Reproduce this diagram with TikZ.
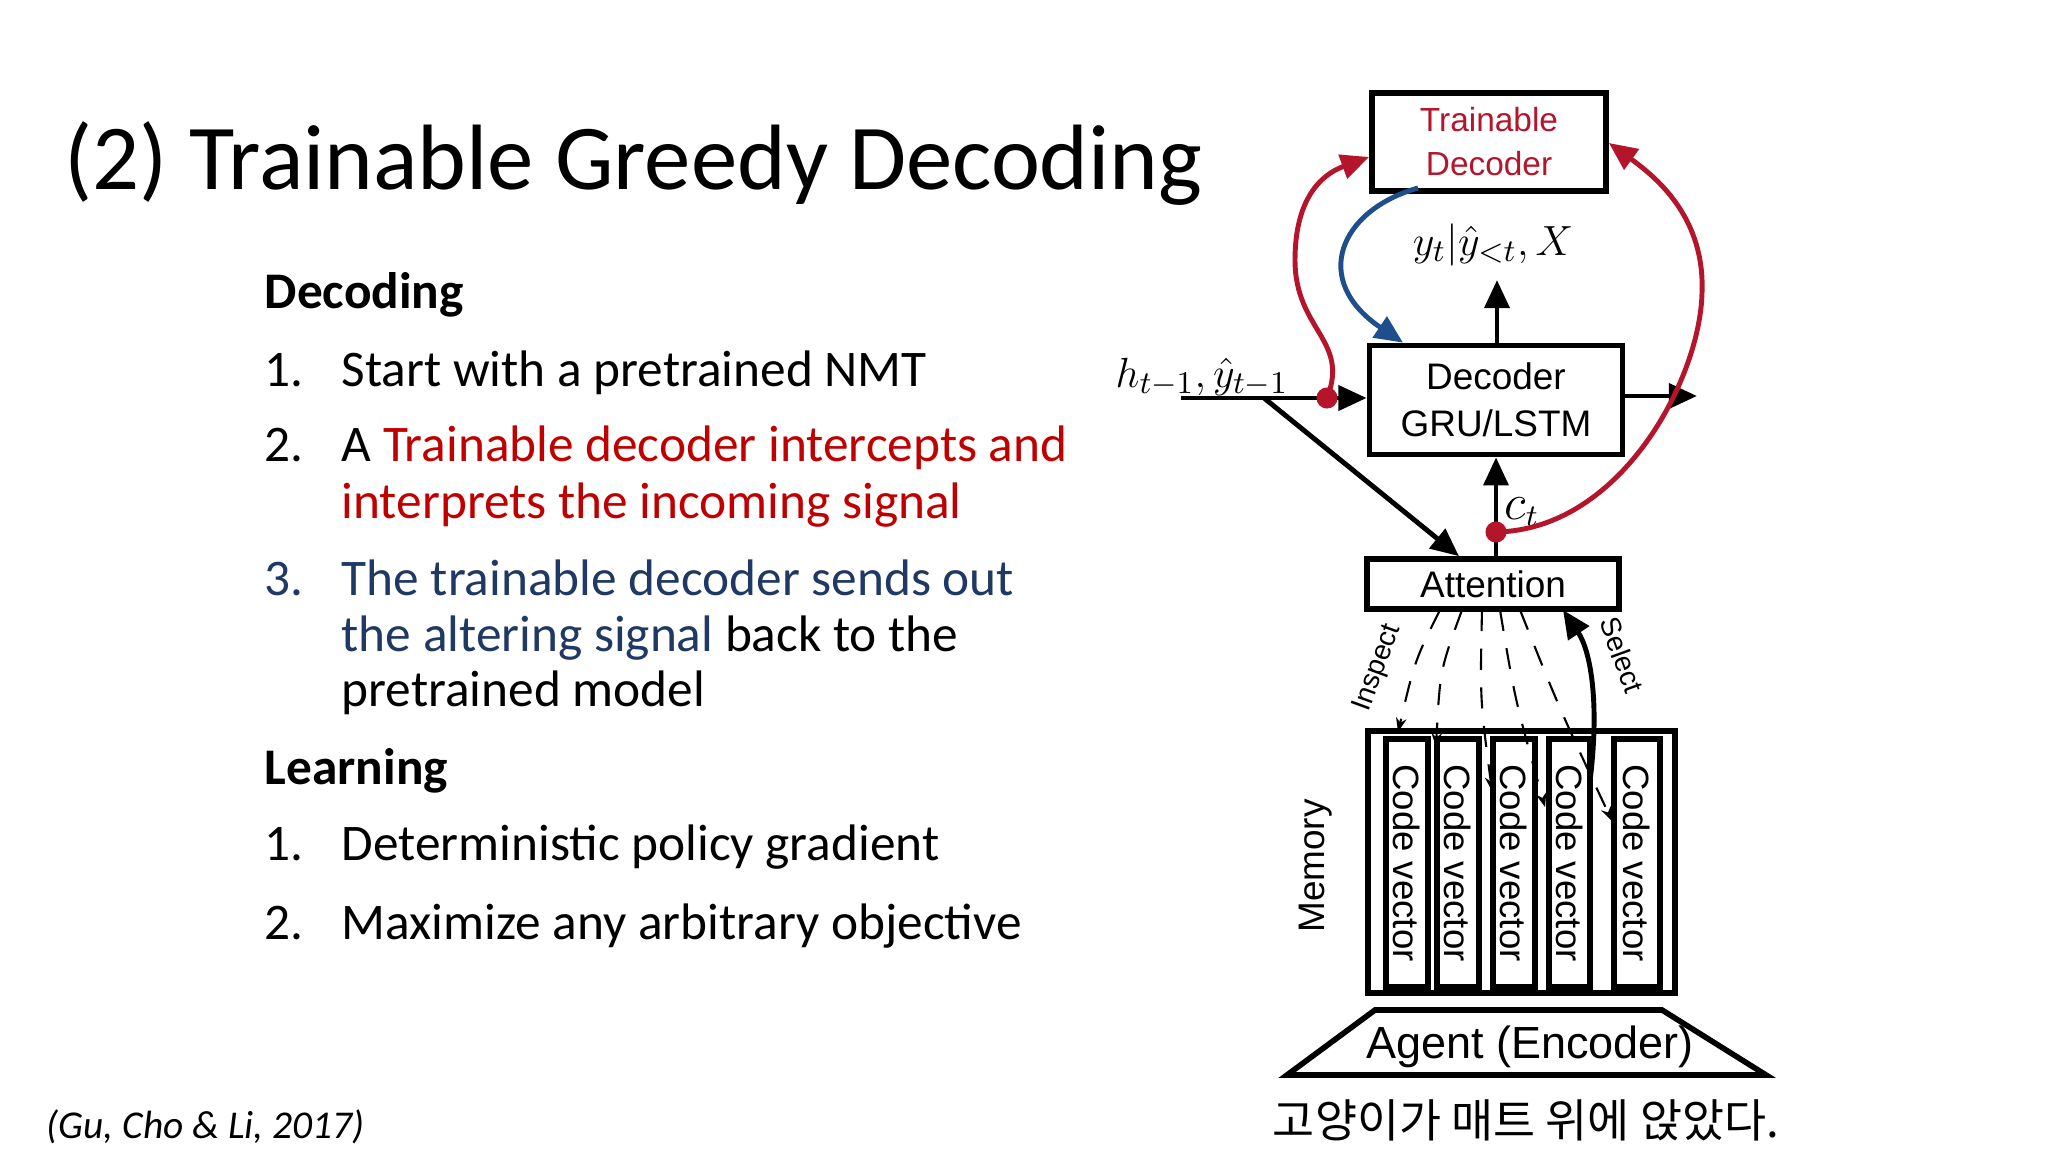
\documentclass[tikz,border=0pt]{standalone}
\usepackage{fontspec}
\setmainfont{Carlito}
\newfontfamily\helv{Liberation Sans}
\newfontfamily\kor{Noto Sans CJK KR}
\usetikzlibrary{arrows.meta}
\definecolor{slidered}{HTML}{C00000}
\definecolor{slideblue}{HTML}{1F3864}
\definecolor{figred}{HTML}{B5152B}
\definecolor{figblue}{HTML}{1F4E8C}
\begin{document}
\begin{tikzpicture}[x=0.01cm,y=-0.01cm,
  txt/.style={anchor=base west,inner sep=0pt,font=\fontsize{14.6}{18}\selectfont},
  box/.style={draw,line width=1.6pt,inner sep=0pt,font=\helv\fontsize{10.5}{13.5}\selectfont,align=center},
  arr/.style={line width=1.4pt,-{Triangle[length=8pt,width=7pt]}},
  redarr/.style={figred,line width=1.4pt,-{Triangle[length=8pt,width=7pt]}},
  dash_arr/.style={line width=0.6pt,dash pattern=on 6pt off 5pt,-{Stealth[length=4pt]}},
  dot/.style={circle,fill=figred,inner sep=0pt,minimum size=6pt}]

    \useasboundingbox (0,0) rectangle (2048,1152);

    % slide text
    \node[txt,font=\fontsize{26.4}{32}\selectfont] (title) at (64,190) {(2) Trainable Greedy Decoding};
    \node[txt,font=\bfseries\fontsize{14.6}{18}\selectfont] (dec) at (264,309) {Decoding};
    \node[txt] (d1n) at (264,387) {1.};
    \node[txt] (d1) at (341,387) {Start with a pretrained NMT};
    \node[txt] (d2n) at (264,462) {2.};
    \node[txt] (d2) at (341,462) {A \textcolor{slidered}{Trainable decoder intercepts and}};
    \node[txt,text=slidered] (d2b) at (341,519) {interprets the incoming signal};
    \node[txt,text=slideblue] (d3n) at (264,595) {3.};
    \node[txt,text=slideblue] (d3) at (341,595) {The trainable decoder sends out};
    \node[txt] (d3b) at (341,651) {\textcolor{slideblue}{the altering signal} back to the};
    \node[txt] (d3c) at (341,706) {pretrained model};
    \node[txt,font=\bfseries\fontsize{14.6}{18}\selectfont] (learn) at (264,784) {Learning};
    \node[txt] (l1n) at (264,860) {1.};
    \node[txt] (l1) at (341,860) {Deterministic policy gradient};
    \node[txt] (l2n) at (264,939) {2.};
    \node[txt] (l2) at (341,939) {Maximize any arbitrary objective};
    \node[txt,font=\itshape\fontsize{11.2}{14}\selectfont] (cite) at (46,1138) {(Gu, Cho \& Li, 2017)};

    % diagram boxes
    \node[box,minimum width=2.34cm,minimum height=0.98cm,text=figred,font=\helv\fontsize{9.5}{12.5}\selectfont] (train) at (1489,142) {Trainable\\Decoder};
    \node[box,minimum width=2.53cm,minimum height=1.09cm] (decoder) at (1496,400) {Decoder\\GRU/LSTM};
    \node[box,minimum width=2.52cm,minimum height=0.50cm] (att) at (1493,584) {Attention};

    % memory
    \draw[line width=1.6pt] (1368,731) rectangle (1675,993);
    \foreach \xa/\xb [count=\i] in {1386/1428,1437/1479,1493/1535,1549/1590,1614/1660} {
      \draw[line width=1.6pt] (\xa,739) rectangle (\xb,987);
      \node[inner sep=0pt,rotate=-90,font=\helv\fontsize{10.4}{12}\selectfont] (cv\i) at ({(\xa+\xb)/2},863) {Code vector};
    }
    \node[inner sep=0pt,rotate=90,font=\helv\fontsize{10.5}{12}\selectfont] (mem) at (1316,866) {Memory};

    % agent
    \draw[line width=1.6pt] (1287,1075) -- (1375,1010) -- (1662,1010) -- (1766,1075) -- cycle;
    \node[inner sep=0pt,font=\helv\fontsize{12.8}{14}\selectfont] (agent) at (1530,1047) {Agent (Encoder)};
    \node[inner sep=0pt,font=\kor\fontsize{13}{16}\selectfont] (sent) at (1526,1120) {고양이가 매트 위에 앉았다.};

    % labels
    \node[inner sep=0pt,font=\fontsize{12.5}{14}\selectfont] (ylbl) at (1493,245) {$y_t|\hat{y}_{<t},X$};
    \node[inner sep=0pt,font=\fontsize{12.5}{14}\selectfont] (hlbl) at (1202,377) {$h_{t-1},\hat{y}_{t-1}$};
    \node[inner sep=0pt,font=\fontsize{13.5}{14}\selectfont] (clbl) at (1522,512) {$c_t$};
    \node[inner sep=0pt,rotate=70,font=\helv\fontsize{8}{10}\selectfont] (insp) at (1378,668) {Inspect};
    \node[inner sep=0pt,rotate=-70,font=\helv\fontsize{8}{10}\selectfont] (sel) at (1622,655) {Select};

    \coordinate (hin) at (1181,398);
    \coordinate (hsplit) at (1264,398);
    \coordinate (rdot) at (1327,398);
    \coordinate (cdot) at (1496,532);
    \coordinate (out) at (1697,396);
    \coordinate (ytop) at (1497,280);

    % connectors
    \draw[arr] (hin) -- (decoder.west |- hin);
    \draw[arr] (hsplit) -- (att.north -| 1459,0);
    \draw[arr] (decoder.east |- out) -- (out);
    \draw[arr] (decoder.north -| ytop) -- (ytop);
    \draw[arr] (att.north -| cdot) -- (decoder.south -| cdot);
    \draw[redarr] (rdot) .. controls (1350,340) and (1295,330) .. (1295,260)
      .. controls (1295,200) and (1320,175) .. (train.west |- 1368,157);
    \draw[redarr] (cdot) .. controls (1620,530) and (1700,380) .. (1702,293)
      .. controls (1705,220) and (1660,180) .. (train.east |- 1608,143);
    \draw[figblue,line width=1.4pt,-{Triangle[length=8pt,width=7pt]}] (1418,188)
      .. controls (1340,210) and (1310,280) .. (decoder.north -| 1403,0);
    \node[dot] (d1) at (rdot) {};
    \node[dot] (d2) at (cdot) {};

    % inspect / select
    \draw[dash_arr] (1440,610) .. controls (1415,660) .. (1398,732);
    \draw[dash_arr] (1462,610) .. controls (1440,670) .. (1436,747);
    \draw[dash_arr] (1482,610) .. controls (1480,700) .. (1492,791);
    \draw[dash_arr] (1500,610) .. controls (1515,700) .. (1545,807);
    \draw[dash_arr] (1520,610) .. controls (1560,710) .. (1612,821);
    \draw[line width=1.4pt,-{Triangle[length=8pt,width=7pt]}] (1590,781)
      .. controls (1600,700) and (1590,650) .. (1563,610);
\end{tikzpicture}
\end{document}
